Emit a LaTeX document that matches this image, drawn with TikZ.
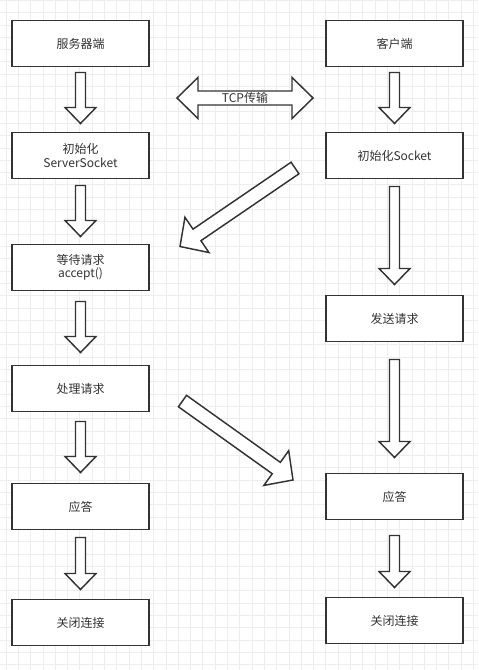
\documentclass[tikz,border=0pt]{standalone}
\usepackage{fontspec}
\setmainfont{Noto Sans CJK SC}
\usetikzlibrary{positioning,calc}

\tikzset{
  box/.style={draw=black!80, line width=1.1pt, fill=white, outer sep=0pt, minimum width=102.75pt, minimum height=34.5pt, align=center, text=black!80, font=\fontsize{9}{10}\selectfont},
  fatarrow/.style={draw=black!80, line width=1.1pt, fill=white, line join=miter},
  gridline/.style={black!7, line width=0.6pt}
}

% hollow block arrow: tail, tip, half shaft, half head, head length
\newcommand{\blockarrow}[5]{%
  \coordinate (fa-s) at (#1);
  \coordinate (fa-t) at (#2);
  \coordinate (fa-h) at ($(fa-t)!#5!(fa-s)$);
  \draw[fatarrow] ($(fa-s)!#3!90:(fa-t)$) -- ($(fa-h)!#3!90:(fa-t)$) -- ($(fa-h)!#4!90:(fa-t)$) -- (fa-t)
    -- ($(fa-h)!#4!-90:(fa-t)$) -- ($(fa-h)!#3!-90:(fa-t)$) -- ($(fa-s)!#3!-90:(fa-t)$) -- cycle;
}
% hollow arrow with two heads: left tip, right tip, half shaft, half head, head length
\newcommand{\twinarrow}[5]{%
  \coordinate (ta-l) at (#1);
  \coordinate (ta-r) at (#2);
  \coordinate (ta-hl) at ($(ta-l)!#5!(ta-r)$);
  \coordinate (ta-hr) at ($(ta-r)!#5!(ta-l)$);
  \draw[fatarrow] (ta-l) -- ($(ta-hl)!#4!90:(ta-r)$) -- ($(ta-hl)!#3!90:(ta-r)$) -- ($(ta-hr)!#3!-90:(ta-l)$)
    -- ($(ta-hr)!#4!-90:(ta-l)$) -- (ta-r) -- ($(ta-hr)!#4!90:(ta-l)$) -- ($(ta-hr)!#3!90:(ta-l)$)
    -- ($(ta-hl)!#3!-90:(ta-r)$) -- ($(ta-hl)!#4!-90:(ta-r)$) -- cycle;
}

\begin{document}
\begin{tikzpicture}[x=0.75pt, y=-0.75pt]
\useasboundingbox (0,0) rectangle (478,670);
\fill[white] (0,0) rectangle (478,670);
% grid
\foreach \gx in {6,18.3,...,478} \draw[gridline] (\gx,0) -- (\gx,670);
\foreach \gy in {0.4,12.7,...,670} \draw[gridline] (0,\gy) -- (478,\gy);

% server side
\node[box] (srv) at (80.5,43.5) {服务器端};
\node[box, below=49.5pt of srv] (srvinit) {初始化\\ServerSocket};
\node[box, below=49.5pt of srvinit] (wait) {等待请求\\accept()};
\node[box, below=56.25pt of wait] (handle) {处理请求};
\node[box, below=54pt of handle] (lans) {应答};
\node[box, below=52.5pt of lans] (lclose) {关闭连接};

% client side
\node[box] (cli) at (394.5,43.5) {客户端};
\node[box, below=49.5pt of cli] (cliinit) {初始化Socket};
\node[box, below=87.75pt of cliinit] (send) {发送请求};
\node[box, below=99pt of send] (rans) {应答};
\node[box, below=58.5pt of rans] (rclose) {关闭连接};

\blockarrow{[yshift=-4.5pt]srv.south}{[yshift=6.75pt]srvinit.north}{3.75pt}{11.6pt}{12pt}
\blockarrow{[yshift=-5.25pt]srvinit.south}{[yshift=6pt]wait.north}{3.75pt}{11.6pt}{12pt}
\blockarrow{[yshift=-8.25pt]wait.south}{[yshift=9.75pt]handle.north}{3.75pt}{11.6pt}{12pt}
\blockarrow{[yshift=-7.5pt]handle.south}{[yshift=8.25pt]lans.north}{3.75pt}{11.6pt}{12pt}
\blockarrow{[yshift=-6pt]lans.south}{[yshift=7.5pt]lclose.north}{3.75pt}{11.6pt}{12pt}

\blockarrow{[yshift=-4.5pt]cli.south}{[yshift=6.75pt]cliinit.north}{3.75pt}{11.6pt}{12pt}
\blockarrow{[yshift=-6pt]cliinit.south}{[yshift=8.25pt]send.north}{3.75pt}{11.6pt}{12pt}
\blockarrow{[yshift=-13.5pt]send.south}{[yshift=12pt]rans.north}{3.75pt}{11.6pt}{12pt}
\blockarrow{[yshift=-12pt]rans.south}{[yshift=7.5pt]rclose.north}{3.75pt}{11.6pt}{12pt}

\blockarrow{[xshift=-23.25pt, yshift=-9.4pt]cliinit.west}{[xshift=23.25pt, yshift=15.75pt]wait.east}{5.25pt}{16pt}{15.4pt}
\blockarrow{[xshift=25.1pt, yshift=-9.4pt]handle.east}{[xshift=-24.75pt, yshift=12.4pt]rans.west}{5.25pt}{16pt}{15.4pt}

% TCP link
\coordinate (tcpl) at (177,98);
\coordinate (tcpr) at (313,98);
\twinarrow{tcpl}{tcpr}{5.25pt}{15.4pt}{15.75pt}
\node[text=black!80, font=\fontsize{9}{10}\selectfont, inner sep=0pt] (tcp) at (245,98) {TCP传输};
\end{tikzpicture}
\end{document}
